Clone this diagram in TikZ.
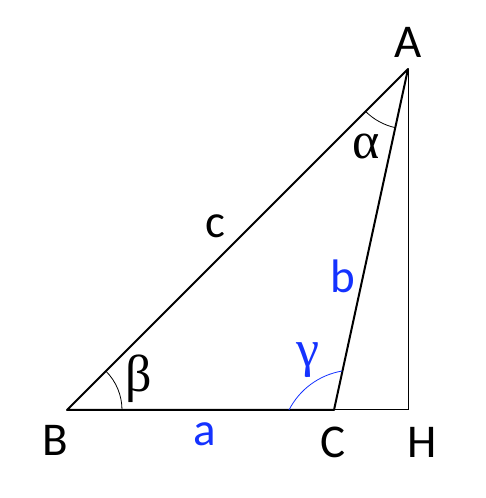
\documentclass[tikz,border=0pt]{standalone}
\usepackage{fontspec}
\setmainfont{Carlito}
\newfontfamily\greekfont{Liberation Serif}
\definecolor{lblblue}{RGB}{20,50,255}
\begin{document}
\begin{tikzpicture}[x=1pt,y=1pt,
  tri/.style={line width=2pt,line cap=round,line join=round},
  thinline/.style={line width=1pt},
  angarc/.style={line width=0.8pt},
  lbl/.style={font=\fontsize{47}{47}\selectfont,inner sep=0pt},
  glbl/.style={font=\fontsize{52}{52}\selectfont\greekfont,inner sep=0pt}]
\useasboundingbox (0,0) rectangle (485,498);
\coordinate (B) at (67,88);
\coordinate (C) at (334,88);
\coordinate (H) at (408,88);
\coordinate (A) at (408,429);
\coordinate (G) at (354.3,54.7);
\draw[thinline] (C) -- (H) -- (A);
\draw[tri] (B) -- (C) -- (A) -- cycle;
\draw[angarc] ([shift={(0:55)}]B) arc[start angle=0,end angle=45,radius=55];
\draw[angarc] ([shift={(225:60)}]A) arc[start angle=225,end angle=257.8,radius=60];
\draw[angarc,lblblue] ([shift={(153:73.3)}]G) arc[start angle=153,end angle=99.7,radius=73.3];
\node[lbl] (lA) at (408,456) {A};
\node[lbl] (lB) at (55,58) {B};
\node[lbl] (lC) at (333,56) {C};
\node[lbl] (lH) at (422,56) {H};
\node[lbl,lblblue] (la) at (205,64) {a};
\node[lbl,lblblue] (lb) at (343,222) {b};
\node[lbl] (lc) at (215,272) {c};
\node[glbl] (lal) at (366,352) {α};
\node[glbl] (lbe) at (138.5,119.5) {β};
\node[glbl,lblblue] (lga) at (308,137.5) {γ};
\end{tikzpicture}
\end{document}
